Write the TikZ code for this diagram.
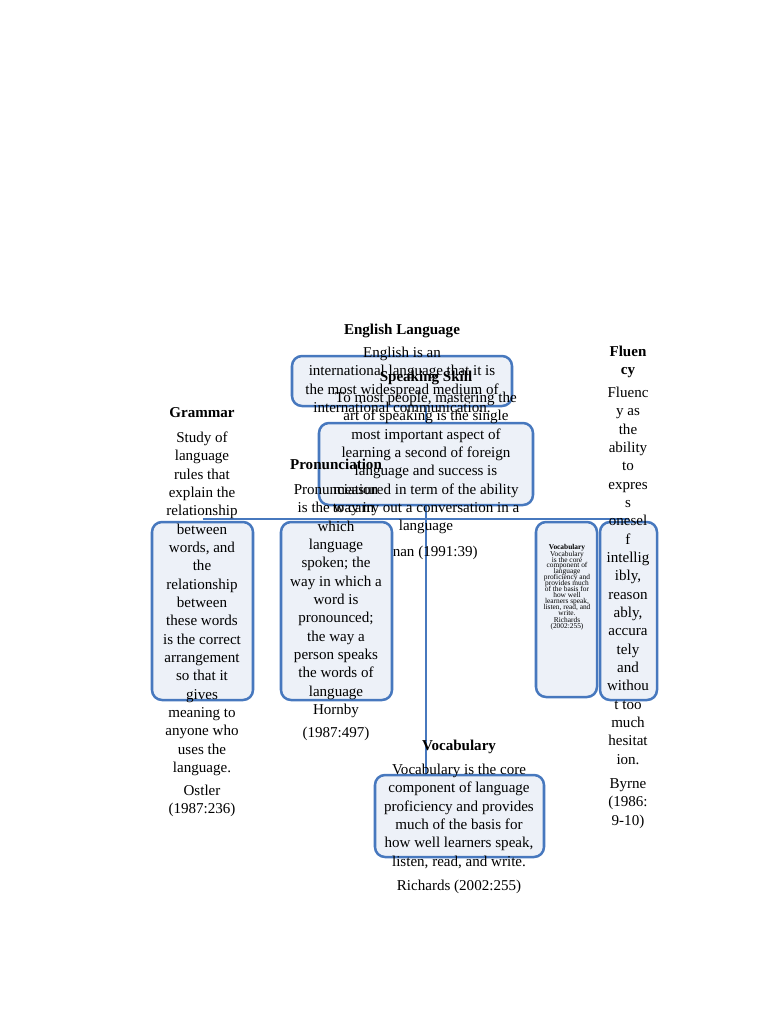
\documentclass[tikz,border=0pt]{standalone}
\usepackage{fontspec}
\setmainfont{Liberation Serif}
\usetikzlibrary{fit,backgrounds}
\definecolor{boxline}{RGB}{71,120,190}
\definecolor{boxfill}{RGB}{237,241,248}
\newcommand{\tinyfont}{\fontsize{5.9}{4.7}\selectfont\setlength{\lineskiplimit}{-10pt}}

\begin{document}
\begin{tikzpicture}[x=0.797pt, y=-0.797pt,
    card/.style={draw=boxline, fill=boxfill, line width=2pt, rounded corners=8pt, inner sep=0pt},
    link/.style={draw=boxline, line width=1.2pt},
    txt/.style={anchor=north, inner sep=0pt, align=center, yshift=6.7pt, font=\fontsize{12}{14.6}\selectfont},
    head/.style={txt, font=\fontsize{12}{14.6}\selectfont\bfseries},
    tinytxt/.style={anchor=north, inner sep=0pt, align=center, yshift=1.8pt, font=\tinyfont}]
    \useasboundingbox (0,0) rectangle (768,1024);

        \node[card, fit={(292,356) (512,406)}] (english) {};
        \node[head] (englishtitle) at (402,330) {\strut English Language};
        \node[txt] (englishtext) at (402,353) {\strut English is an\\international language that it is\\the most widespread medium of\\international communication.};

        \node[card, fit={(319,423) (533,505)}] (speak) {};
        \node[head] (speaktitle) at (426,377) {\strut Speaking Skill};
        \node[txt] (speaktext) at (426,398) {\strut To most people, mastering the\\art of speaking is the single\\most important aspect of\\learning a second of foreign\\language and success is\\measured in term of the ability\\to carry out a conversation in a\\language};
        \node[txt] (speakcite) at (426,552) {\strut Nunan (1991:39)};

        \node[card, fit={(152,522) (253,700)}] (grammar) {};
        \node[head] (grammartitle) at (202,413) {\strut Grammar};
        \node[txt] (grammartext) at (202,438) {\strut Study of\\language\\rules that\\explain the\\relationship\\between\\words, and\\the\\relationship\\between\\these words\\is the correct\\arrangement\\so that it\\gives\\meaning to\\anyone who\\uses the\\language.};
        \node[txt] (grammarcite) at (202,791) {\strut Ostler\\(1987:236)};

        \node[card, fit={(281,522) (392,700)}] (pron) {};
        \node[head] (prontitle) at (336,465) {\strut Pronunciation};
        \node[txt] (prontext) at (336,490) {\strut Pronunciation\\is the way in\\which\\language\\spoken; the\\way in which a\\word is\\pronounced;\\the way a\\person speaks\\the words of\\language\\Hornby};
        \node[txt] (proncite) at (336,733) {\strut (1987:497)};

        \node[card, fit={(536,522) (597,697)}] (vocabsmall) {};
        \node[tinytxt, font=\tinyfont\bfseries] (vocabsmalltitle) at (567,546) {\strut Vocabulary};
        \node[tinytxt] (vocabsmalltext) at (567,553) {\strut Vocabulary\\is the core\\component of\\language\\proficiency and\\provides much\\of the basis for\\how well\\learners speak,\\listen, read, and\\write.};
        \node[tinytxt] (vocabsmallcite) at (567,619) {\strut Richards\\(2002:255)};

        \node[card, fit={(600,522) (657,700)}] (fluency) {};
        \node[head] (fluencytitle) at (628,352) {\strut Fluen\\cy};
        \node[txt] (fluencytext) at (628,393) {\strut Fluenc\\y as\\the\\ability\\to\\expres\\s\\onesel\\f\\intellig\\ibly,\\reason\\ably,\\accura\\tely\\and\\withou\\t too\\much\\hesitat\\ion.};
        \node[txt] (fluencycite) at (628,784) {\strut Byrne\\(1986:\\9-10)};

        \node[card, fit={(375,775) (544,857)}] (vocab) {};
        \node[head] (vocabtitle) at (459,746) {\strut Vocabulary};
        \node[txt] (vocabtext) at (459,770) {\strut Vocabulary is the core\\component of language\\proficiency and provides\\much of the basis for\\how well learners speak,\\listen, read, and write.};
        \node[txt] (vocabcite) at (459,886) {\strut Richards (2002:255)};

        \coordinate (bar) at (0,519);
        \begin{pgfonlayer}{background}
        \draw[link] (speak.north) -- (speak.north |- english.south);
        \draw[link] (speak.south) -- (speak.south |- vocab.north);
        \draw[link] (grammar.north |- bar) -- (fluency.north |- bar);
        \end{pgfonlayer}
    \end{tikzpicture}
\end{document}
